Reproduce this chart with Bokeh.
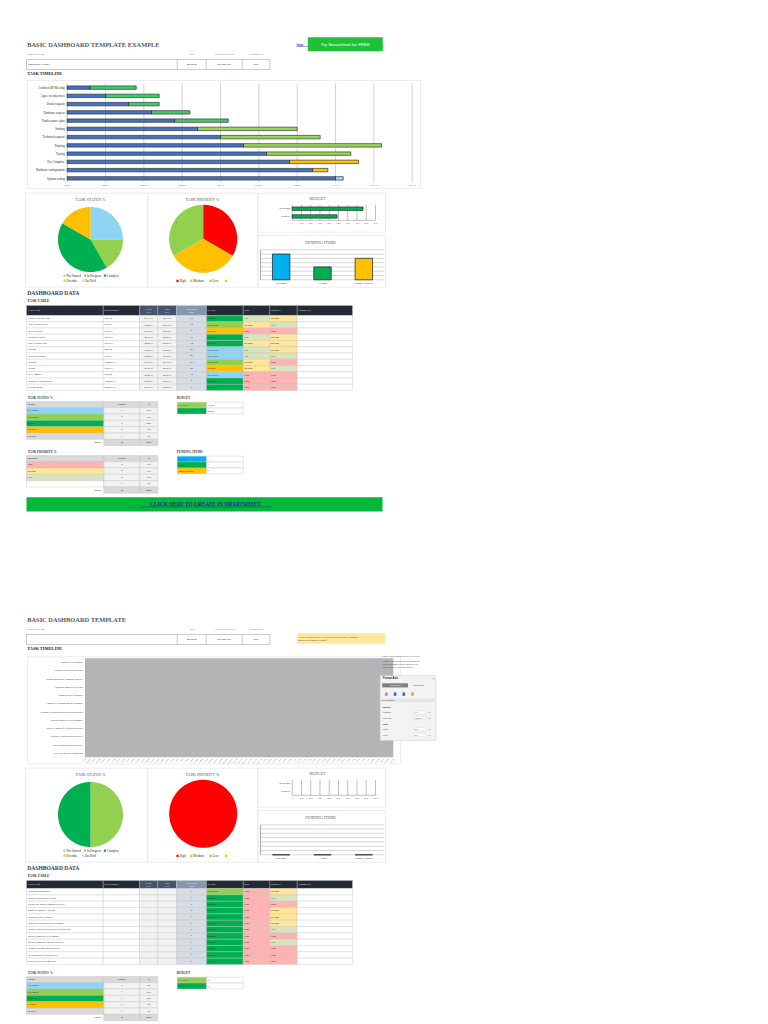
import math
from datetime import datetime, timedelta
from bokeh.plotting import figure
from bokeh.models import Range1d
from bokeh.embed import file_html
from bokeh.resources import INLINE

# ======================= DATA =======================
project_name_1 = "PROJECT ALPHA"
project_name_2 = ""
project_due = "06/15/19"
project_status = "ON TRACK"
project_complete = "73%"
header_fields = ["PROJECT NAME", "DUE", "PROJECT STATUS", "% COMPLETE"]

task_names_1 = ["Architect/BP Meeting", "Agree on objectives", "Detail requests", "Hardware request",
                "Final resource plan", "Staffing", "Technical requests", "Training", "Testing",
                "Dev Complete", "Hardware configuration", "System testing"]
responsible_1 = ["John M", "David T", "David S", "David S", "David S", "John M", "David T",
                 "Amanda R", "David S", "John M", "Amanda R", "Russell M"]
start_dates_1 = ["03/31/19", "04/04/19", "04/10/19", "04/16/19", "04/22/19", "04/28/19",
                 "05/04/19", "05/10/19", "05/16/19", "05/22/19", "05/28/19", "06/03/19"]
end_dates_1 = ["04/12/19", "04/18/19", "04/18/19", "04/26/19", "05/06/19", "05/24/19",
               "05/30/19", "06/15/19", "06/07/19", "06/09/19", "06/01/19", "06/05/19"]
timeline_phase_1 = ["Complete", "Complete", "Complete", "Complete", "Complete", "In Progress",
                    "In Progress", "In Progress", "In Progress", "Overdue", "Overdue", "Not Started"]
status_1 = ["Complete", "In Progress", "Overdue", "Complete", "Complete", "Not Started",
            "Not Started", "In Progress", "Overdue", "Not Started", "Complete", "Complete"]
risk_1 = ["Low", "Medium", "High", "Low", "Medium", "Low", "Low", "Medium", "Medium", "High", "High", "High"]
priority_1 = ["Medium", "Low", "High", "Medium", "Medium", "Medium", "Low", "High", "Low", "High", "High", "High"]
timeline_ticks_1 = ["3/25/19", "4/4/19", "4/14/19", "4/24/19", "5/4/19", "5/14/19",
                    "5/24/19", "6/3/19", "6/13/19", "6/23/19"]

status_names = ["Not Started", "In Progress", "Complete", "Overdue", "On Hold"]
status_counts_1 = [3, 2, 5, 2, 0]
status_pct_1 = ["25%", "17%", "42%", "17%", "0%"]
status_total_1 = ["12", "100%"]
priority_names = ["High", "Medium", "Low", ""]
priority_counts_1 = [4, 4, 4, 0]
priority_pct_1 = ["33%", "33%", "33%", "0%"]
priority_total_1 = ["12", "100%"]

budget_names = ["PLANNED", "ACTUAL"]
budget_values_1 = [7650, 4850]
budget_text_1 = ["$7,650", "$4,850"]
budget_ticks = [0, 1000, 2000, 3000, 4000, 5000, 6000, 7000, 8000, 9000]

pending_names = ["Decisions", "Actions", "Change Requests"]
pending_values_1 = [6, 3, 5]
pending_axis_max = 7

task_names_2 = ["Candidate recruitment", "Conduct disciplinary actions", "Design and update company policies",
                "Maintain employee records", "Conduct benefit analysis", "Employee training and development",
                "Conduct job analysis and role descriptions", "Monitor employee performance",
                "Resolve employee internal conflicts", "Enhance rewards and incentives",
                "Set standards for productivity", "Develop internal complaints"]
durations_2 = [0, 0, 0, 0, 0, 0, 0, 0, 0, 0, 0, 0]
status_2 = ["In Progress", "Complete", "Complete", "Complete", "Complete", "Complete",
            "Complete", "Complete", "Complete", "Complete", "Complete", "Complete"]
risk_2 = ["High", "High", "High", "High", "High", "High", "High", "High", "High", "High", "High", "High"]
priority_2 = ["Medium", "Low", "High", "Medium", "Medium", "Medium", "Low", "High", "Low", "High", "High", "High"]
status_counts_2 = [0, 1, 1, 0, 0]
status_pct_2 = ["0%", "50%", "50%", "0%", "0%"]
status_total_2 = ["2", "100%"]
priority_counts_2 = [2, 0, 0, 0]
budget_values_2 = [0, 0]
budget_text_2 = ["$  -", "$  -"]
pending_values_2 = [0, 0, 0]
gantt2_ticks = [f"{d.month}/{d.day}/{d.strftime('%y')}"
                for d in (datetime(1900, 1, 1) + timedelta(days=10 * k) for k in range(64))]

STATUS_COLORS = {"Not Started": "#8DD5F3", "In Progress": "#92D050", "Complete": "#00B050",
                 "Overdue": "#FFC000", "On Hold": "#D9D9D9"}
PHASE_COLORS = {"Complete": "#3DCB6C", "In Progress": "#9BD45C", "Overdue": "#FFC000", "Not Started": "#9DDCF2"}
LEVEL_COLORS = {"High": "#FFB3B3", "Medium": "#FFE699", "Low": "#D8E4BC", "": "#FFFFFF"}
PRIORITY_PIE = {"High": "#FF0000", "Medium": "#FFC000", "Low": "#92D050", "": "#FFC000"}
BUDGET_COLORS = ["#92D050", "#00B050"]
PENDING_COLORS = ["#00B0F0", "#00B050", "#FFC000"]

# ======================= DRAWING HELPERS =======================
SERIF = "Liberation Serif"
SANS = "Liberation Sans"
TR = "rgba(0,0,0,0)"
BORDER = "#bfbfbf"
BOXLINE = "#d9d9d9"
INK = "#1f1f1f"
DY = 575

layers = [dict(q=[], s=[], pt=[], t=[]) for _ in range(6)]


def box(x0, y0, x1, y1, fill=None, line=None, lw=0.5, layer=0):
    layers[layer]["q"].append((x0, x1, y0, y1, fill or TR, line or TR, lw if line else 0.0))


def seg(x0, y0, x1, y1, color="#a6a6a6", lw=0.5, layer=1):
    layers[layer]["s"].append((x0, y0, x1, y1, color, lw))


def poly(xs, ys, fill, layer=2):
    layers[layer]["pt"].append((xs, ys, fill))


def txt(x, y, s, size=2.5, color=INK, align="left", bold=False, font=SERIF,
        angle=0.0, base="middle", layer=3):
    layers[layer]["t"].append((x, y, s, f"{size}px", color, align, base,
                               "bold" if bold else "normal", font, angle))


def parse(d):
    return datetime.strptime(d, "%m/%d/%y")


# ---------------- page header ----------------
def page_header(dy, title, name):
    txt(26.7, 44.3 + dy, title, 6.4, "#595959", bold=True)
    txt(26.7, 54.3 + dy, header_fields[0], 2.4, "#4d4d4d")
    for lab, xc in zip(header_fields[1:], [191.7, 224.5, 256.0]):
        txt(xc, 54.3 + dy, lab, 2.4, "#4d4d4d", "center")
    box(26, 59 + dy, 269.3, 69 + dy, "white", "#a6a6a6", 0.6)
    for xv in (176.7, 205.7, 241.7):
        seg(xv, 59 + dy, xv, 69 + dy, "#a6a6a6", 0.6, layer=0)
    txt(27.8, 64 + dy, name, 2.6, bold=True)
    for val, xc in zip([project_due, project_status, project_complete], [191.2, 223.7, 255.5]):
        txt(xc, 64 + dy, val, 2.6, INK, "center", bold=True)
    txt(26.7, 73.3 + dy, "TASK TIMELINE", 4.4, "#262626", bold=True)


# ---------------- gantt page 1 ----------------
def gantt1():
    box(27, 80, 420, 188, "white", BOXLINE)
    px0, px1, py0, py1 = 66.7, 411.7, 83.0, 182.0
    t0 = parse(start_dates_1[0]) - (parse(start_dates_1[0]) - datetime.strptime(timeline_ticks_1[0], "%m/%d/%y"))
    tdays = [(datetime.strptime(t, "%m/%d/%y") - t0).days for t in timeline_ticks_1]
    span = tdays[-1]

    def X(d):
        return px0 + (parse(d) - t0).days / span * (px1 - px0)

    for td, lab in zip(tdays, timeline_ticks_1):
        x = px0 + td / span * (px1 - px0)
        seg(x, py0, x, py1, "#7f7f7f" if td == 0 else "#a6a6a6", 0.5)
        txt(x, 184.6, lab, 2.4, "#404040", "center")
    n = len(task_names_1)
    band = (py1 - py0) / n
    for i in range(n):
        yc = py0 + band * (i + 0.5)
        h = band * 0.42
        xs, xe = X(start_dates_1[i]), X(end_dates_1[i])
        box(px0, yc - h / 2, xs, yc + h / 2, "#4472C4", "#1a1a1a", 0.6, layer=2)
        box(xs, yc - h / 2, xe, yc + h / 2, PHASE_COLORS[timeline_phase_1[i]], "#1a1a1a", 0.6, layer=2)
        txt(px0 - 2.5, yc, task_names_1[i], 3.0, INK, "right")


# ---------------- gantt page 2 ----------------
def gantt2():
    box(27, 656.3, 400, 763.5, "white", BOXLINE)
    gx0, gx1, gy0, gy1 = 84.5, 392.8, 657.8, 756.8
    box(gx0, gy0, gx1, gy1, "#b4b4b4")
    n = len(task_names_2)
    band = (gy1 - gy0) / n
    for i, nm in enumerate(task_names_2):
        txt(82.2, gy0 + band * (i + 0.5), nm, 2.5, INK, "right")
    m = len(gantt2_ticks)
    for k, lab in enumerate(gantt2_ticks):
        x = gx0 + (gx1 - gx0) * k / (m - 1)
        txt(x, 758.2, lab, 1.7, "#404040", "right", angle=math.pi / 4)
    box(368.4, 658.3, 378.9, 660.4, "#9fb4de", layer=2)
    # helper note + Format Axis pane
    notes = ["Right click the horizontal (Date) axis to select",
             "Format Axis and update Bound Minimum and",
             "Bound Maximum settings to match the start",
             "and end dates in your dashboard data."]
    for k, yy in enumerate([655.2, 660.5, 663.3, 666.3]):
        txt(382.4, yy, notes[k], 2.0, "#404040", layer=5)
    box(379.6, 675.1, 435.3, 739.9, "#f3f3f3", "#c8c8c8", 0.5, layer=4)
    txt(382.6, 677.9, "Format Axis", 2.6, "#262626", bold=True, font=SANS, layer=5)
    txt(432.9, 677.9, "\u00d7", 2.8, "#595959", "center", font=SANS, layer=5)
    box(381.7, 682.8, 407.5, 686.9, "#7f7f7f", layer=4)
    txt(394.6, 684.9, "Axis Options", 1.9, "white", "center", font=SANS, layer=5)
    txt(412.7, 684.9, "Text Options", 1.9, "#404040", font=SANS, layer=5)
    for xi, col in zip([384.5, 393.3, 402.0, 410.7], ["#9a9a9a", "#2f6fd0", "#2f6fd0", "#e8a33d"]):
        box(xi, 691.9, xi + 2.6, 695.3, col, layer=4)
    box(380.1, 698.0, 434.8, 701.6, "#e3e3e3", layer=4)
    txt(381.6, 699.8, "\u25be Axis Options", 1.9, "#404040", font=SANS, layer=5)
    txt(382.6, 706.4, "Bounds", 2.0, "#262626", bold=True, font=SANS, layer=5)
    for lab, v, yy in [("Minimum", "1.0", 712.0), ("Maximum", "43459.0", 717.2)]:
        txt(382.6, yy, lab, 1.9, "#404040", font=SANS, layer=5)
        box(413.7, yy - 1.6, 424.9, yy + 1.6, "white", "#bdbdbd", 0.3, layer=4)
        txt(414.4, yy, v, 1.8, "#404040", font=SANS, layer=5)
        txt(426.6, yy, "Auto", 1.8, "#8a8a8a", font=SANS, layer=5)
    txt(382.6, 723.2, "Units", 2.0, "#262626", bold=True, font=SANS, layer=5)
    for lab, v, yy in [("Major", "10.0", 728.7), ("Minor", "2.0", 734.3)]:
        txt(382.6, yy, lab, 1.9, "#404040", font=SANS, layer=5)
        box(413.7, yy - 1.6, 424.9, yy + 1.6, "white", "#bdbdbd", 0.3, layer=4)
        txt(414.4, yy, v, 1.8, "#404040", font=SANS, layer=5)
        txt(426.6, yy, "Auto", 1.8, "#8a8a8a", font=SANS, layer=5)


# ---------------- pies ----------------
def pie(cx, cy, r, counts, colors):
    tot = sum(counts)
    a = 0.0
    for c, col in zip(counts, colors):
        if c == 0:
            continue
        frac = c / tot
        a1 = a + frac * 2 * math.pi
        nseg = max(3, int(frac * 160))
        angs = [a + (a1 - a) * k / nseg for k in range(nseg + 1)]
        xs = [cx + r * math.sin(t) for t in angs]
        ys = [cy - r * math.cos(t) for t in angs]
        if frac < 0.999:
            xs = [cx] + xs
            ys = [cy] + ys
        poly(xs, ys, col)
        mid = (a + a1) / 2
        txt(cx + 0.92 * r * math.sin(mid), cy - 0.92 * r * math.cos(mid), str(c), 2.5, "#333333", "center")
        a = a1


def legend(entries, dy):
    for lab, col, xm, ym in entries:
        box(xm - 1.1, ym + dy - 1.1, xm + 1.1, ym + dy + 1.1, col, layer=2)
        if lab:
            txt(xm + 2.0, ym + dy, lab, 3.1, INK)


def pies_row(dy, s_counts, p_counts):
    box(25, 192.7 + dy, 147.3, 286.7 + dy, "white", BOXLINE)
    box(147.3, 192.7 + dy, 257.3, 286.7 + dy, "white", BOXLINE)
    txt(90, 199.3 + dy, "TASK STATUS %", 4.0, "#595959", "center")
    txt(202, 199.3 + dy, "TASK PRIORITY %", 4.0, "#595959", "center")
    pie(90, 239 + dy, 32.5, s_counts, [STATUS_COLORS[s] for s in status_names])
    pie(202.7, 238.3 + dy, 34, p_counts, [PRIORITY_PIE[s] for s in priority_names])
    sx = [64, 84.5, 104.5, 64, 82.5]
    sy = [275.2, 275.2, 275.2, 280.2, 280.2]
    legend([(status_names[i], STATUS_COLORS[status_names[i]], sx[i], sy[i]) for i in range(5)], dy)
    px = [177, 190.8, 210.2, 225.5]
    legend([(priority_names[i], PRIORITY_PIE[priority_names[i]], px[i], 280.4) for i in range(4)], dy)


# ---------------- budget chart ----------------
def budget_chart(dy, values):
    box(257.7, 192.7 + dy, 385, 231.7 + dy, "white", BOXLINE)
    txt(317, 198.3 + dy, "BUDGET", 4.0, "#595959", "center")
    x0, x1 = 291.7, 375.0
    vmax = budget_ticks[-1]
    y0, y1 = 204.3 + dy, 219.8 + dy
    for tv in budget_ticks:
        x = x0 + tv / vmax * (x1 - x0)
        seg(x, y0, x, y1, "#808080", 0.5)
        txt(x, 223.2 + dy, str(tv), 2.0, "#404040", "center")
    seg(x0, y1, x1, y1, "#808080", 0.5)
    band = (y1 - y0) / len(budget_names)
    for i, (nm, v) in enumerate(zip(budget_names, values)):
        yc = y0 + band * (i + 0.5)
        if v > 0:
            box(x0, yc - 1.75, x0 + v / vmax * (x1 - x0), yc + 1.75, "#00B050", "#1a1a1a", 0.6, layer=2)
        txt(289.5, yc, nm, 2.2, INK, "right", bold=True)


# ---------------- pending chart ----------------
def pending_chart(dy, values):
    box(257.7, 235 + dy, 385, 286.7 + dy, "white", BOXLINE)
    txt(320, 242.3 + dy, "PENDING ITEMS", 4.0, "#595959", "center")
    x0, x1 = 260.0, 384.0
    yt, yb = 249.3 + dy, 279.3 + dy
    for k in range(pending_axis_max + 1):
        y = yb - k / pending_axis_max * (yb - yt)
        seg(x0, y, x1, y, "#a6a6a6", 0.45)
    seg(x0, yt, x0, yb, "#595959", 0.5)
    band = (x1 - x0) / len(pending_names)
    for i, (nm, v) in enumerate(zip(pending_names, values)):
        xc = x0 + band * (i + 0.5)
        h = v / pending_axis_max * (yb - yt)
        box(xc - 8.7, yb - h, xc + 8.7, yb, PENDING_COLORS[i], "#1a1a1a", 0.7, layer=2)
        txt(xc, 283.2 + dy, nm, 2.7, INK, "center")


# ---------------- task table ----------------
COLS = [26, 102.7, 139, 157.3, 176, 206, 242.7, 269.3, 296.7, 352]
HDR = [["TASK NAME"], ["RESPONSIBLE"], ["START", "DATE"], ["END", "DATE"], ["DURATION", "in days"],
       ["STATUS"], ["RISK"], ["PRIORITY"], ["COMMENTS"]]
HDR_FILL = ["#222a35", "#222a35", "#44546a", "#44546a", "#8497b0", "#222a35", "#222a35", "#222a35", "#222a35"]


def task_table(dy, ht, hb, rt, rh, names, resp, starts, ends, durs, status, risk, prio):
    txt(26.7, 292.7 + dy, "DASHBOARD DATA", 5.6, "#3b3b3b", bold=True)
    txt(26.7, 300 + dy, "TASK TABLE", 3.6, "#3b3b3b", bold=True)
    hm = (ht + hb) / 2
    for j in range(9):
        box(COLS[j], ht, COLS[j + 1], hb, HDR_FILL[j], "#d0d0d0", 0.3)
        lines = HDR[j]
        centered = j in (2, 3, 4)
        xt = (COLS[j] + COLS[j + 1]) / 2 if centered else COLS[j] + 1.2
        if len(lines) == 1:
            txt(xt, hm, lines[0], 2.2, "white", "center" if centered else "left")
        else:
            txt(xt, hm - 1.4, lines[0], 2.1, "white", "center")
            txt(xt, hm + 1.4, lines[1], 1.8, "white", "center")
    for i in range(len(names)):
        y0 = rt + i * rh
        y1 = y0 + rh
        ym = (y0 + y1) / 2
        fills = ["white", "white", "#f2f2f2", "#f2f2f2", "#d6dce4",
                 STATUS_COLORS[status[i]], LEVEL_COLORS[risk[i]], LEVEL_COLORS[prio[i]], "white"]
        for j in range(9):
            box(COLS[j], y0, COLS[j + 1], y1, fills[j], BORDER, 0.35)
        txt(COLS[0] + 1.2, ym, names[i], 2.5)
        if resp:
            txt(COLS[1] + 1.2, ym, resp[i], 2.5)
        if starts:
            txt((COLS[2] + COLS[3]) / 2, ym, starts[i], 2.3, INK, "center")
            txt((COLS[3] + COLS[4]) / 2, ym, ends[i], 2.3, INK, "center")
        txt((COLS[4] + COLS[5]) / 2, ym, str(durs[i]), 2.4, INK, "center")
        txt(COLS[5] + 1.0, ym, status[i], 2.4)
        txt(COLS[6] + 1.0, ym, risk[i], 2.4)
        txt(COLS[7] + 1.0, ym, prio[i], 2.4)


def summary_table(dy, ly, title, first_hdr, names, colors, counts, pcts, total):
    ly = ly + dy
    txt(27.2, ly, title, 3.2, "#3b3b3b", bold=True)
    xs = [26, 103.3, 139.3, 157.3]
    ht, hb = ly + 3.4, ly + 9.4
    for j in range(3):
        box(xs[j], ht, xs[j + 1], hb, "#d9d9d9", BORDER, 0.4)
    hm = (ht + hb) / 2
    txt(27, hm, first_hdr, 2.1, INK, bold=True)
    txt(121.3, hm, "COUNT", 2.1, INK, "center", bold=True)
    txt(148.3, hm, "%", 2.1, INK, "center", bold=True)
    rh = 6.35
    for i in range(len(names)):
        y0 = hb + i * rh
        ym = y0 + rh / 2
        box(xs[0], y0, xs[1], y0 + rh, colors[i], BORDER, 0.4)
        box(xs[1], y0, xs[2], y0 + rh, "#f2f2f2", BORDER, 0.4)
        box(xs[2], y0, xs[3], y0 + rh, "#f2f2f2", BORDER, 0.4)
        if names[i]:
            txt(27, ym, names[i], 2.4)
        txt(121.3, ym, str(counts[i]), 2.4, INK, "center")
        txt(148.3, ym, pcts[i], 2.4, INK, "center")
    y0 = hb + len(names) * rh
    ym = y0 + rh / 2
    box(xs[1], y0, xs[2], y0 + rh, "#d9d9d9", BORDER, 0.4)
    box(xs[2], y0, xs[3], y0 + rh, "#d9d9d9", BORDER, 0.4)
    txt(101.5, ym, "TOTAL", 2.2, INK, "right", bold=True)
    txt(121.3, ym, total[0], 2.4, INK, "center", bold=True)
    txt(148.3, ym, total[1], 2.4, INK, "center", bold=True)


def mini_table(dy, ly, title, names, colors, vals):
    ly = ly + dy
    txt(176.2, ly, title, 3.2, "#3b3b3b", bold=True)
    rh = 5.85
    for i in range(len(names)):
        y0 = ly + 4 + i * rh
        ym = y0 + rh / 2
        box(176.7, y0, 206, y0 + rh, colors[i], BORDER, 0.4)
        box(206, y0, 242.7, y0 + rh, "white", BORDER, 0.4)
        txt(177.4, ym, names[i], 2.3)
        txt(207, ym, vals[i], 2.3)


# ======================= BUILD =======================
p = figure(width=768, height=1024, x_range=Range1d(0, 768), y_range=Range1d(1024, 0),
           output_backend="svg", toolbar_location=None, min_border=0,
           x_axis_location=None, y_axis_location=None)
p.grid.visible = False
p.outline_line_color = None
p.background_fill_color = "white"
p.border_fill_color = "white"

# ---- page 1 ----
page_header(0, "BASIC DASHBOARD TEMPLATE EXAMPLE", project_name_1)
txt(296, 44.2, "https", 3.6, "#0000ee")
seg(296, 45.9, 384, 45.9, "#0000ee", 0.4, layer=3)
box(307.3, 36.7, 382.3, 50.7, "#1EC236", layer=4)
txt(344.8, 43.7, "Try Smartsheet for FREE", 4.4, "white", "center", font=SANS, layer=5)
gantt1()
pies_row(0, status_counts_1, priority_counts_1)
budget_chart(0, budget_values_1)
pending_chart(0, pending_values_1)
durations_1 = [(parse(e) - parse(s)).days for s, e in zip(start_dates_1, end_dates_1)]
task_table(0, 305, 315, 315, 6.25, task_names_1, responsible_1, start_dates_1, end_dates_1,
           durations_1, status_1, risk_1, priority_1)
summary_table(0, 397.7, "TASK STATUS %", "STATUS", status_names,
              [STATUS_COLORS[s] for s in status_names], status_counts_1, status_pct_1, status_total_1)
summary_table(0, 451.7, "TASK PRIORITY %", "PRIORITY", priority_names,
              [LEVEL_COLORS[s] for s in priority_names], priority_counts_1, priority_pct_1, priority_total_1)
mini_table(0, 397.7, "BUDGET", budget_names, BUDGET_COLORS, budget_text_1)
mini_table(0, 451.7, "PENDING ITEMS", pending_names, PENDING_COLORS, [str(v) for v in pending_values_1])
box(26, 496.7, 382, 511, "#00B93B")
txt(205, 503.9, "CLICK HERE TO CREATE IN SMARTSHEET", 5.3, "#1F2A8C", "center", bold=True)
seg(140, 506.4, 270.5, 506.4, "#1F2A8C", 0.5, layer=3)

# ---- page 2 ----
page_header(DY, "BASIC DASHBOARD TEMPLATE", project_name_2)
box(296.7, 632.7, 385, 643.3, "#FFE699")
txt(297.5, 636.3, "ENTER DASHBOARD DATA in the Data section below only. Dashboard", 2.0, "#3b3b3b")
txt(297.5, 639.6, "graphics will automatically populate.", 2.0, "#3b3b3b")
gantt2()
pies_row(DY, status_counts_2, priority_counts_2)
budget_chart(DY, budget_values_2)
pending_chart(DY, pending_values_2)
task_table(DY, 880, 888, 888, 6.33, task_names_2, None, None, None,
           durations_2, status_2, risk_2, priority_2)
summary_table(DY, 397.7, "TASK STATUS %", "STATUS", status_names,
              [STATUS_COLORS[s] for s in status_names], status_counts_2, status_pct_2, status_total_2)
mini_table(DY, 397.7, "BUDGET", budget_names, BUDGET_COLORS, budget_text_2)

# ---- render layers ----
for lay in layers:
    if lay["q"]:
        l, r, t, b, fc, lc, lw = zip(*lay["q"])
        p.quad(left=list(l), right=list(r), top=list(t), bottom=list(b),
               fill_color=list(fc), line_color=list(lc), line_width=list(lw))
    if lay["s"]:
        x0, y0, x1, y1, c, w = zip(*lay["s"])
        p.segment(x0=list(x0), y0=list(y0), x1=list(x1), y1=list(y1), line_color=list(c), line_width=list(w))
    if lay["pt"]:
        xs, ys, fc = zip(*lay["pt"])
        p.patches(xs=list(xs), ys=list(ys), fill_color=list(fc), line_color=None)
    if lay["t"]:
        x, y, s, sz, c, al, bl, st, fnt, ang = zip(*lay["t"])
        p.text(x=list(x), y=list(y), text=list(s), text_font_size=list(sz), text_color=list(c),
               text_align=list(al), text_baseline=list(bl), text_font_style=list(st),
               text_font=list(fnt), angle=list(ang))

open("out.html", "w").write(file_html(p, INLINE))
